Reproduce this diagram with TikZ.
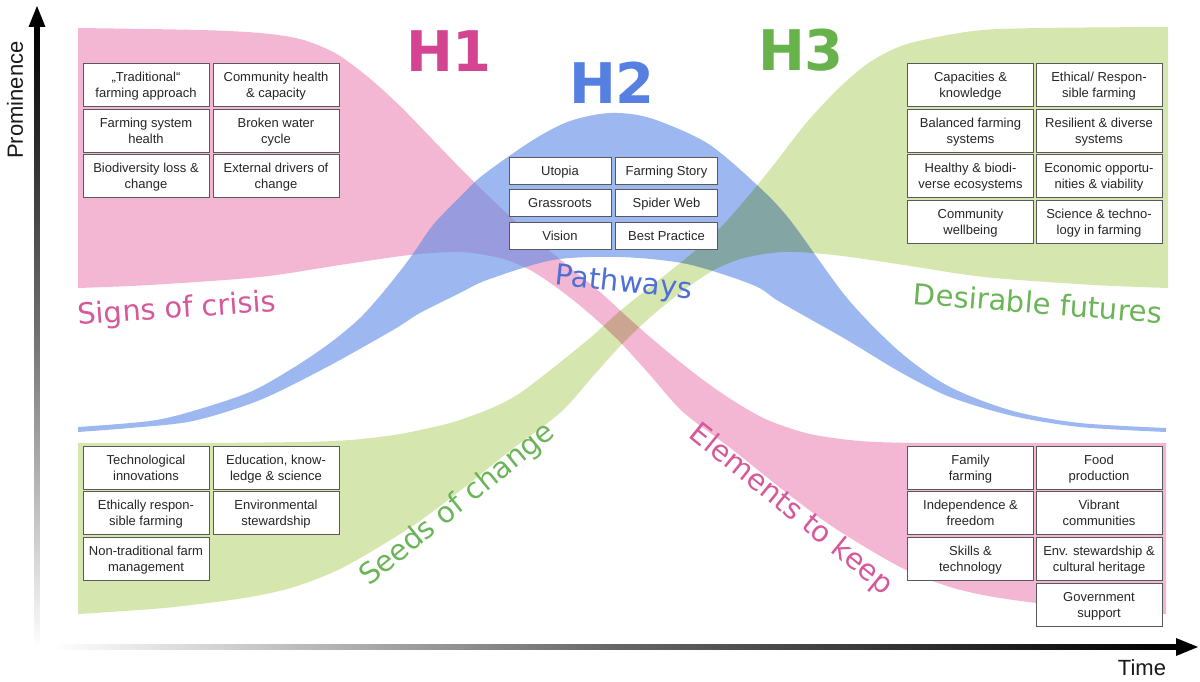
\documentclass[tikz,border=0pt]{standalone}
\usepackage{fontspec}
\setmainfont{Liberation Sans}
\newfontfamily\dejavu{DejaVu Sans}
\definecolor{bandpink}{RGB}{244,183,211}
\definecolor{bandbluebase}{RGB}{92,137,230}
\definecolor{bandgreen}{RGB}{214,230,175}
\definecolor{hpink}{RGB}{213,68,145}
\definecolor{hblue}{RGB}{85,128,226}
\definecolor{hgreen}{RGB}{104,178,76}
\definecolor{lpink}{RGB}{214,88,155}
\definecolor{lblue}{RGB}{78,112,214}
\definecolor{lgreen}{RGB}{108,180,88}
\tikzset{
  box/.style={draw=black!65, line width=0.8pt, fill=white, text=black!85, align=center, inner sep=0pt, text depth=0pt, font=\fontsize{13}{16}\selectfont},
  bigbox/.style={box, minimum width=126pt, minimum height=43pt},
  smallbox/.style={box, minimum width=102pt, minimum height=27pt},
  hlabel/.style={font=\dejavu\bfseries\fontsize{56}{56}\selectfont, inner sep=0pt},
  blabel/.style={font=\dejavu\fontsize{29}{29}\selectfont, inner sep=0pt},
  axlabel/.style={font=\fontsize{22}{22}\selectfont, inner sep=0pt, text=black!90},
  bandsmooth/.style={smooth, tension=0.5}
}
\begin{document}
\begin{tikzpicture}[x=1pt,y=-1pt]
\useasboundingbox (0,0) rectangle (1200,682);

% ---- bands ----
\fill[bandpink] plot[bandsmooth] coordinates {(78,28) (200,30) (260,33) (300,39) (335,53) (368,77) (400,106) (433,140) (467,175) (500,207) (533,237) (567,265) (600,292) (623,313) (650,337) (680,362) (710,385) (740,405) (770,421) (810,434) (860,441) (920,443) (1040,443) (1166,443)}
 -- plot[bandsmooth] coordinates {(1166,614) (1080,608) (1000,598) (950,587) (900,567) (833,527) (783,490) (733,450) (683,412) (650,375) (620,342) (590,314) (560,290) (530,270) (500,258) (460,252) (410,255) (340,265) (260,277) (150,285) (78,288)} -- cycle;
\fill[bandbluebase, fill opacity=0.6] plot[bandsmooth] coordinates {(78,427) (150,421) (193,411) (250,392) (293,368) (330,343) (360,318) (385,290) (410,258) (433,225) (460,197) (483,175) (533,140) (570,121) (610,113) (650,118) (707,143) (757,185) (790,220) (847,298) (900,352) (950,387) (1013,411) (1080,423) (1166,428)}
 -- plot[bandsmooth] coordinates {(1166,432) (1080,427) (1013,416) (950,397) (900,372) (847,340) (780,302) (753,285) (687,264) (620,257) (553,260) (487,280) (460,293) (420,313) (393,330) (327,367) (260,400) (193,421) (130,428) (78,432)} -- cycle;
\begin{scope}[blend mode=multiply]
\fill[bandgreen] plot[bandsmooth] coordinates {(78,443) (200,443) (300,442) (350,440) (400,434) (450,423) (487,410) (517,395) (553,368) (590,338) (620,311) (655,283) (690,255) (720,228) (745,200) (772,167) (807,122) (840,87) (870,62) (907,44) (973,31) (1040,28) (1168,27)}
 -- plot[bandsmooth] coordinates {(1168,288) (1094,285) (984,277) (904,265) (834,255) (784,252) (744,258) (714,270) (684,290) (654,314) (624,342) (594,375) (561,412) (511,450) (461,490) (411,527) (344,567) (294,587) (244,598) (164,608) (78,614)} -- cycle;
\end{scope}

% ---- axes ----
\coordinate (ytip) at (37,6);
\coordinate (yl) at (28.5,27);
\coordinate (yr) at (45.5,27);
\coordinate (xtip) at (1198,647);
\coordinate (xu) at (1176,638);
\coordinate (xd) at (1176,656);
\shade[top color=black, bottom color=white, middle color=black!55] (34.5,25) rectangle (39.5,648);
\shade[left color=white, right color=black, middle color=black!60] (52,644.5) rectangle (1178,649.5);
\fill[black] (yl) -- (ytip) -- (yr) -- cycle;
\fill[black] (xu) -- (xtip) -- (xd) -- cycle;
\node[axlabel, rotate=90] (prom) at (15,100) {Prominence};
\node[axlabel] (time) at (1142,668) {Time};

% ---- horizon labels ----
\node[hlabel, text=hpink] (h1) at (449,51) {H1};
\node[hlabel, text=hblue] (h2) at (612,83) {H2};
\node[hlabel, text=hgreen] (h3) at (801,50) {H3};

% ---- band labels ----
\node[blabel, text=lpink, rotate=4] (crisis) at (177,310) {Signs of crisis};
\node[blabel, text=lblue, rotate=-6] (path) at (624,284) {Pathways};
\node[blabel, text=lgreen, rotate=-4.5] (futures) at (1038,303) {Desirable futures};
\node[blabel, text=lgreen, rotate=39] (seeds) at (458,505) {Seeds of change};
\node[blabel, text=lpink, rotate=-39] (keep) at (791,510) {Elements to keep};

% ---- top-left boxes ----
\node[bigbox] (tl1) at (146,85) {„Traditional“\\farming approach};
\node[bigbox] (tl2) at (276,85) {Community health\\\& capacity};
\node[bigbox] (tl3) at (146,131) {Farming system\\health};
\node[bigbox] (tl4) at (276,131) {Broken water\\cycle};
\node[bigbox] (tl5) at (146,176) {Biodiversity loss \&\\change};
\node[bigbox] (tl6) at (276,176) {External drivers of\\change};

% ---- middle boxes ----
\node[smallbox] (m1) at (560,170.5) {Utopia};
\node[smallbox] (m2) at (666.5,170.5) {Farming Story};
\node[smallbox] (m3) at (560,203) {Grassroots};
\node[smallbox] (m4) at (666.5,203) {Spider Web};
\node[smallbox] (m5) at (560,235.5) {Vision};
\node[smallbox] (m6) at (666.5,235.5) {Best Practice};

% ---- top-right boxes ----
\node[bigbox] (tr1) at (970.5,85) {Capacities \&\\knowledge};
\node[bigbox] (tr2) at (1099,85) {Ethical/ Respon-\\sible farming};
\node[bigbox] (tr3) at (970.5,131) {Balanced farming\\systems};
\node[bigbox] (tr4) at (1099,131) {Resilient \& diverse\\systems};
\node[bigbox] (tr5) at (970.5,176) {Healthy \& biodi-\\verse ecosystems};
\node[bigbox] (tr6) at (1099,176) {Economic opportu-\\nities \& viability};
\node[bigbox] (tr7) at (970.5,221.5) {Community\\wellbeing};
\node[bigbox] (tr8) at (1099,221.5) {Science \& techno-\\logy in farming};

% ---- bottom-left boxes ----
\node[bigbox] (bl1) at (146,467.5) {Technological\\innovations};
\node[bigbox] (bl2) at (276,467.5) {Education, know-\\ledge \& science};
\node[bigbox] (bl3) at (146,513) {Ethically respon-\\sible farming};
\node[bigbox] (bl4) at (276,513) {Environmental\\stewardship};
\node[bigbox] (bl5) at (146,558.5) {Non-traditional farm\\management};

% ---- bottom-right boxes ----
\node[bigbox] (br1) at (970.5,467.5) {Family\\farming};
\node[bigbox] (br2) at (1099,467.5) {Food\\production};
\node[bigbox] (br3) at (970.5,513) {Independence \&\\freedom};
\node[bigbox] (br4) at (1099,513) {Vibrant\\communities};
\node[bigbox] (br5) at (970.5,558.5) {Skills \&\\technology};
\node[bigbox] (br6) at (1099,558.5) {Env. stewardship \&\\cultural heritage};
\node[bigbox] (br7) at (1099,604.5) {Government\\support};
\end{tikzpicture}
\end{document}
